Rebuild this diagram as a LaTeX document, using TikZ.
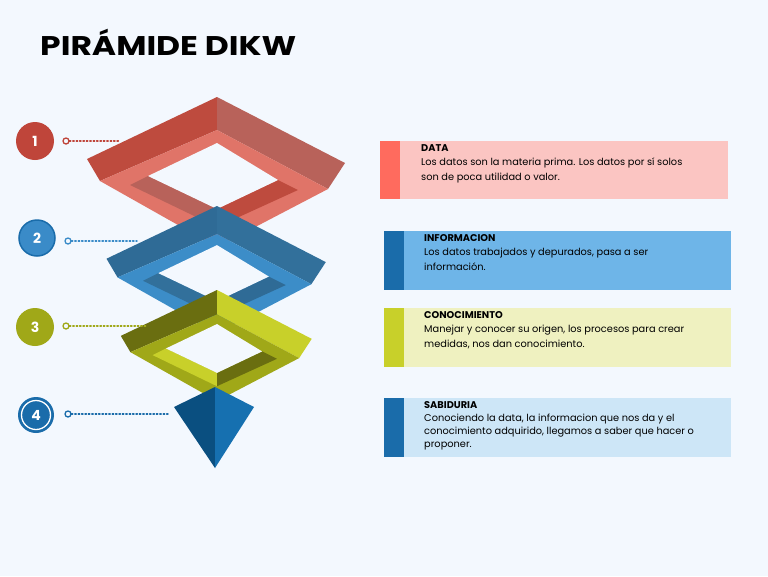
\documentclass[tikz,border=0pt]{standalone}
\usepackage{fontspec}
\setmainfont{Poppins}
\begin{document}
\begin{tikzpicture}[x=1pt,y=-1pt,
  numc/.style={circle,minimum size=38pt,inner sep=0pt,text=white,font=\bfseries\fontsize{14}{14}\selectfont},
  ttl/.style={anchor=north west,inner sep=0pt,align=left,font=\fontsize{9.8}{14.5}\selectfont},
  dotl/.style={line width=1.4pt,dotted,line cap=round}]
\definecolor{bg}{HTML}{F3F8FE}
\definecolor{ra}{RGB}{190,75,62}\definecolor{rb}{RGB}{184,98,90}\definecolor{rc}{RGB}{224,116,104}
\definecolor{ba}{RGB}{47,107,150}\definecolor{bb}{RGB}{50,112,155}\definecolor{bc}{RGB}{60,141,200}
\definecolor{ga}{RGB}{106,110,16}\definecolor{gb}{RGB}{200,208,42}\definecolor{gc}{RGB}{160,168,24}
\definecolor{pa}{RGB}{10,79,128}\definecolor{pb}{RGB}{22,112,176}
\definecolor{c1}{HTML}{BF453A}\definecolor{c2}{HTML}{3A8BC8}\definecolor{c3}{HTML}{A0A818}\definecolor{c4}{HTML}{1A6CAA}
\definecolor{x1}{RGB}{255,107,94}\definecolor{y1}{RGB}{251,197,194}
\definecolor{y2}{RGB}{110,181,232}\definecolor{y3}{RGB}{239,241,192}\definecolor{y4}{RGB}{205,230,247}
\fill[bg] (0,0) rectangle (768,576);
\node[anchor=west,inner sep=0pt,xscale=1.22,font=\bfseries\fontsize{27}{27}\selectfont] (title) at (40,42) {PIRÁMIDE DIKW};
\newcommand{\ringd}[6]{%
 \begin{scope}[shift={(#1,#2)},scale=#3]
  \fill[#4] (0,0)--(-130,62)--(-117,84)--(0,33)--cycle;
  \fill[#5] (0,0)--(128,66)--(111,92)--(0,33)--cycle;
  \fill[#6] (0,33)--(111,92)--(0,150)--(-117,84)--cycle;
  \fill[#5] (-69,79)--(0,112)--(0,130)--(-87,88)--cycle;
  \fill[#4] (61,83)--(0,112)--(0,130)--(81,93)--cycle;
  \fill[bg] (0,46)--(-69,79)--(0,112)--(61,83)--cycle;
 \end{scope}}
\ringd{217}{97}{1}{ra}{rb}{rc}
\ringd{217}{206}{0.85}{ba}{bb}{bc}
\ringd{217}{290}{0.74}{ga}{gb}{gc}
\fill[pa] (215,387)--(174,407)--(215,468)--cycle;
\fill[pb] (215,387)--(254,407)--(215,468)--cycle;
\node[numc,fill=c1] (n1) at (35,141) {1};
\node[numc,fill=c2,draw=c4,line width=1.5pt,minimum size=36pt] (n2) at (37,238) {2};
\node[numc,fill=c3] (n3) at (35,327) {3};
\node[numc,fill=c4,minimum size=36pt] (n4) at (36,415) {4};
\draw[white,line width=1.3pt] (36,415) circle (14.5);
\foreach \i/\y/\a/\b in {1/141/66/120,2/241/68/137,3/326/66/147,4/414/68/168}{
  \coordinate (d\i) at (\a,\y); \coordinate (e\i) at (\b,\y);
  \draw[dotl,c\i] (d\i) -- (e\i);
  \draw[c\i,line width=1.3pt,fill=bg] (d\i) circle (3);
}
\fill[x1] (380,141) rectangle (400,199);
\fill[y1] (400,141) rectangle (728,199);
\node[ttl] (t1) at (421,144) {\textbf{DATA}\\Los datos son la materia prima. Los datos por sí solos\\son de poca utilidad o valor.};
\fill[c4] (384,231) rectangle (404,290);
\fill[y2] (404,231) rectangle (731,290);
\node[ttl] (t2) at (424,234) {\textbf{INFORMACION}\\Los datos trabajados y depurados, pasa a ser\\información.};
\fill[gb] (384,308) rectangle (404,367);
\fill[y3] (404,308) rectangle (731,367);
\node[ttl] (t3) at (424,311) {\textbf{CONOCIMIENTO}\\Manejar y conocer su origen, los procesos para crear\\medidas, nos dan conocimiento.};
\fill[c4] (384,398) rectangle (404,457);
\fill[y4] (404,398) rectangle (731,457);
\node[ttl,font=\fontsize{9.8}{13}\selectfont] (t4) at (424,401) {\textbf{SABIDURIA}\\Conociendo la data, la informacion que nos da y el\\conocimiento adquirido, llegamos a saber que hacer o\\proponer.};
\end{tikzpicture}
\end{document}
